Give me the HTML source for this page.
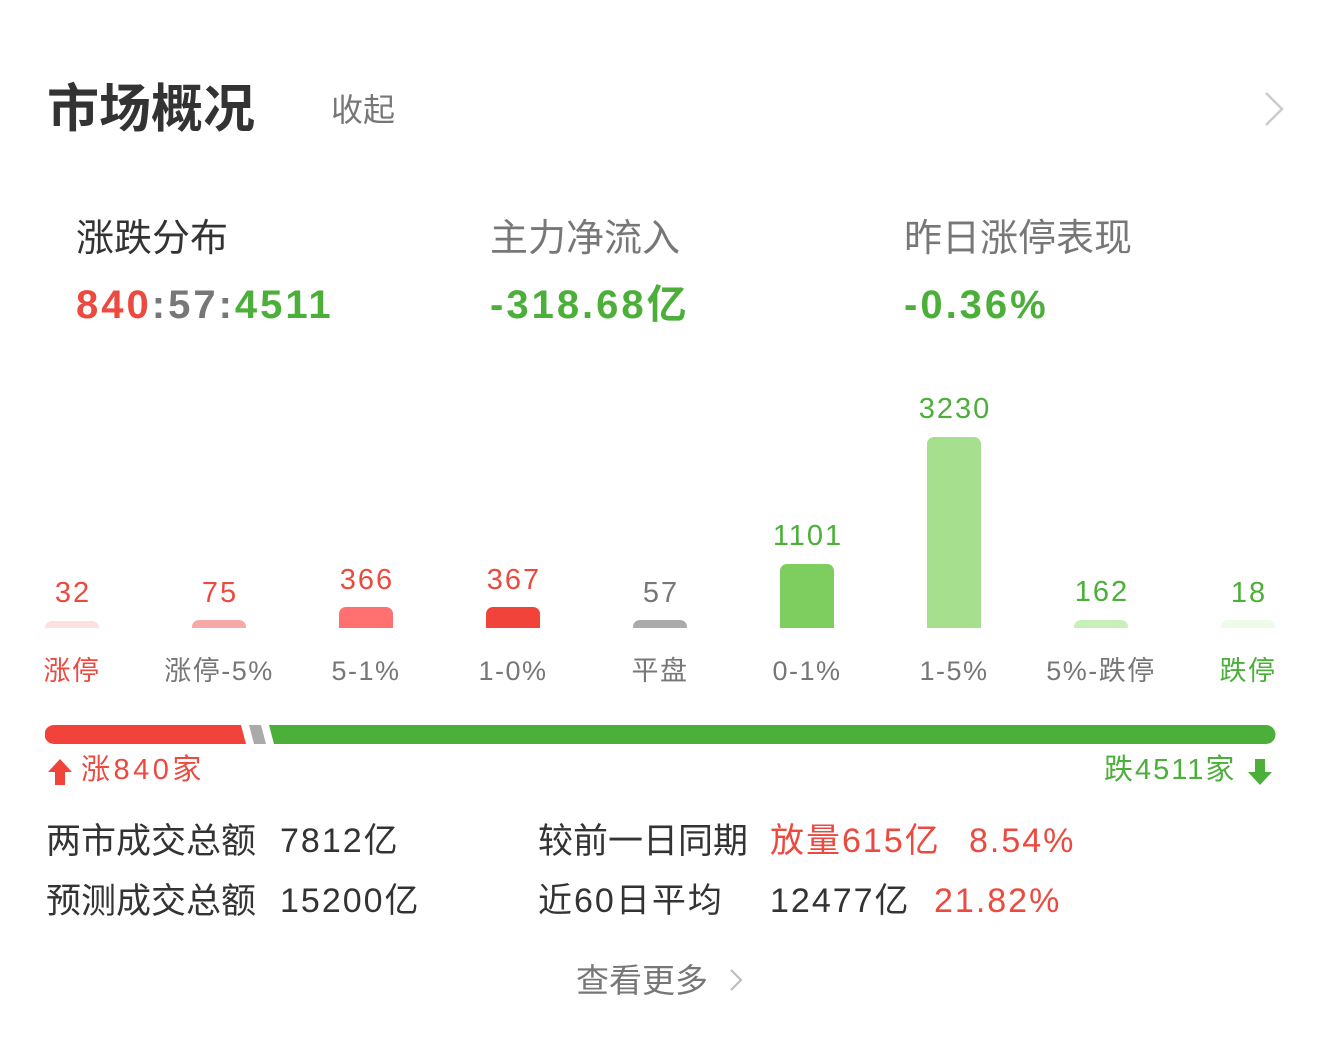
<!DOCTYPE html>
<html><head><meta charset="utf-8"><style>
body{margin:0;width:1320px;height:1040px;background:#fff;position:relative;overflow:hidden;font-family:"Liberation Sans","Noto Sans CJK SC",sans-serif;}
.a{position:absolute;white-space:nowrap;line-height:1;}
.r{color:#ec4a3f}.g{color:#4caf39}.k{color:#333}.m{color:#777}
.bar{position:absolute;width:54px;border-radius:7px 7px 0 0;}
.v{position:absolute;width:120px;text-align:center;font-size:29px;line-height:1;letter-spacing:2px;}
.c{position:absolute;width:150px;text-align:center;font-size:27px;line-height:1;top:658px;color:#777;letter-spacing:1.5px;}
.big{font-size:40px;font-weight:bold;letter-spacing:3px;}
.b{font-size:35px;}
.n{font-size:34px;letter-spacing:2px;}
</style></head><body>
<div class="a k" style="left:47px;top:84px;font-size:52px;font-weight:bold;">市场概况</div>
<div class="a m" style="left:331px;top:94px;font-size:32px;">收起</div>
<svg class="a" style="left:1262px;top:90px" width="24" height="38"><path d="M4 3 L20 19 L4 35" stroke="#ccc" stroke-width="2.5" fill="none"/></svg>

<div class="a k" style="left:76px;top:220px;font-size:38px;">涨跌分布</div>
<div class="a big" style="left:76px;top:285px;"><span class="r">840</span><span style="color:#777">:57:</span><span class="g">4511</span></div>
<div class="a m" style="left:490px;top:220px;font-size:38px;">主力净流入</div>
<div class="a g big" style="left:490px;top:285px;">-318.68亿</div>
<div class="a m" style="left:904px;top:220px;font-size:38px;">昨日涨停表现</div>
<div class="a g big" style="left:904px;top:285px;">-0.36%</div>

<div class="v r" style="left:13px;top:579px">32</div>
<div class="v r" style="left:160px;top:579px">75</div>
<div class="v r" style="left:307px;top:566px">366</div>
<div class="v r" style="left:454px;top:566px">367</div>
<div class="v m" style="left:601px;top:579px">57</div>
<div class="v g" style="left:748px;top:522px">1101</div>
<div class="v g" style="left:895px;top:395px">3230</div>
<div class="v g" style="left:1042px;top:578px">162</div>
<div class="v g" style="left:1189px;top:579px">18</div>

<div class="bar" style="left:45px;top:621px;height:7px;background:#fde0e0"></div>
<div class="bar" style="left:192px;top:620px;height:8px;background:#f9a8a8"></div>
<div class="bar" style="left:339px;top:607px;height:21px;background:#ff7070"></div>
<div class="bar" style="left:486px;top:607px;height:21px;background:#f2433a"></div>
<div class="bar" style="left:633px;top:620px;height:8px;background:#aaa"></div>
<div class="bar" style="left:780px;top:564px;height:64px;background:#7dcd5f"></div>
<div class="bar" style="left:927px;top:437px;height:191px;background:#a6e08e"></div>
<div class="bar" style="left:1074px;top:620px;height:8px;background:#c8f0b8"></div>
<div class="bar" style="left:1221px;top:620px;height:8px;background:#eefbe8"></div>

<div class="c" style="left:-3px;color:#ec4a3f">涨停</div>
<div class="c" style="left:144px">涨停-5%</div>
<div class="c" style="left:291px">5-1%</div>
<div class="c" style="left:438px">1-0%</div>
<div class="c" style="left:585px">平盘</div>
<div class="c" style="left:732px">0-1%</div>
<div class="c" style="left:879px">1-5%</div>
<div class="c" style="left:1026px">5%-跌停</div>
<div class="c" style="left:1173px;color:#4caf39">跌停</div>

<svg class="a" style="left:45px;top:725px" width="1231" height="19">
<path d="M9 0 H196 L201 19 H9 A9 9 0 0 1 9 0Z" fill="#f2433a"/>
<path d="M204 0 H216 L221 19 H209Z" fill="#aaa"/>
<path d="M224 0 H1221 A9 9 0 0 1 1221 19 H229Z" fill="#4caf39"/>
</svg>
<svg class="a" style="left:47px;top:758px" width="26" height="28"><path d="M13 1 L25 14 H18 V27 H8 V14 H1Z" fill="#f2433a"/></svg>
<div class="a r" style="left:81px;top:756px;font-size:29px;letter-spacing:3.5px;">涨840家</div>
<div class="a g" style="left:1104px;top:756px;font-size:29px;letter-spacing:2px;">跌4511家</div>
<svg class="a" style="left:1247px;top:758px" width="26" height="28"><path d="M13 27 L25 14 H18 V1 H8 V14 H1Z" fill="#4caf39"/></svg>

<div class="a k b" style="left:46px;top:824px;">两市成交总额</div>
<div class="a k n" style="left:280px;top:824px;">7812亿</div>
<div class="a k b" style="left:46px;top:884px;">预测成交总额</div>
<div class="a k n" style="left:280px;top:884px;">15200亿</div>
<div class="a k b" style="left:538px;top:824px;">较前一日同期</div>
<div class="a r n" style="left:770px;top:824px;">放量615亿</div>
<div class="a r n" style="left:969px;top:824px;">8.54%</div>
<div class="a k n" style="left:538px;top:884px;">近60日平均</div>
<div class="a k n" style="left:770px;top:884px;">12477亿</div>
<div class="a r n" style="left:934px;top:884px;">21.82%</div>
<div class="a m" style="left:576px;top:964px;font-size:33px;">查看更多</div>
<svg class="a" style="left:728px;top:967px" width="16" height="26"><path d="M3 3 L13 13 L3 23" stroke="#bbb" stroke-width="2" fill="none"/></svg>
</body></html>
